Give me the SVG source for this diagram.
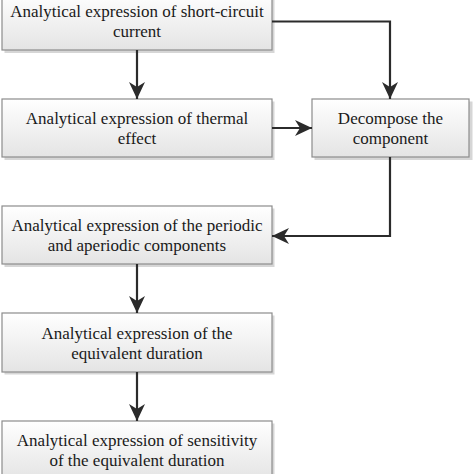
<svg xmlns="http://www.w3.org/2000/svg" width="474" height="474" viewBox="0 0 474 474">
<style>
.box{fill:url(#g);stroke:#8c8c8c;stroke-width:1.2}
.sh{fill:#d6d6d6}
.t{font-family:'Liberation Serif','Times New Roman','DejaVu Serif',serif;font-size:17px;fill:#1a1a1a;text-anchor:middle}
.c{fill:none;stroke:#2b2b2b;stroke-width:2.2}
</style>
<defs>
<linearGradient id="g" x1="0" y1="0" x2="0" y2="1">
<stop offset="0" stop-color="#ffffff"/>
<stop offset="1" stop-color="#e4e4e4"/>
</linearGradient>
<marker id="a" viewBox="0 0 17 16" refX="17" refY="8" markerWidth="17" markerHeight="16" markerUnits="userSpaceOnUse" orient="auto">
<path d="M0,0 L17,8 L0,16 L5,8 Z" fill="#2b2b2b"/>
</marker>
</defs>
<g id="n1">
<rect class="sh" x="4.5" y="-6" width="270" height="59"/>
<rect class="box" x="2" y="-8" width="270" height="58"/>
<text class="t" x="137" y="17">Analytical expression of short-circuit</text>
<text class="t" x="137" y="37">current</text>
</g>
<g id="n2">
<rect class="sh" x="4.5" y="101.5" width="270" height="58.5"/>
<rect class="box" x="2" y="99" width="270" height="58"/>
<text class="t" x="137" y="124">Analytical expression of thermal</text>
<text class="t" x="137" y="144">effect</text>
</g>
<g id="n3">
<rect class="sh" x="314.5" y="101.5" width="158" height="58.5"/>
<rect class="box" x="312" y="99" width="157" height="58"/>
<text class="t" x="390.5" y="124">Decompose the</text>
<text class="t" x="390.5" y="144">component</text>
</g>
<g id="n4">
<rect class="sh" x="4.5" y="208.5" width="270" height="58.5"/>
<rect class="box" x="2" y="206" width="270" height="58"/>
<text class="t" x="137" y="231">Analytical expression of the periodic</text>
<text class="t" x="137" y="251">and aperiodic components</text>
</g>
<g id="n5">
<rect class="sh" x="4.5" y="315.5" width="270" height="59"/>
<rect class="box" x="2" y="313" width="270" height="59"/>
<text class="t" x="137" y="338.5">Analytical expression of the</text>
<text class="t" x="137" y="358.5">equivalent duration</text>
</g>
<g id="n6">
<rect class="sh" x="4.5" y="423.5" width="270" height="59"/>
<rect class="box" x="2" y="421" width="270" height="59"/>
<text class="t" x="137" y="446">Analytical expression of sensitivity</text>
<text class="t" x="137" y="466">of the equivalent duration</text>
</g>
<g id="connectors">
<path class="c" d="M137,50 V99" marker-end="url(#a)"/>
<path class="c" d="M272,21.5 H390 V99" marker-end="url(#a)"/>
<path class="c" d="M272,128 H312" marker-end="url(#a)"/>
<path class="c" d="M390,157 V236 H272" marker-end="url(#a)"/>
<path class="c" d="M137,264 V313" marker-end="url(#a)"/>
<path class="c" d="M137,372 V421" marker-end="url(#a)"/>
</g>
</svg>
